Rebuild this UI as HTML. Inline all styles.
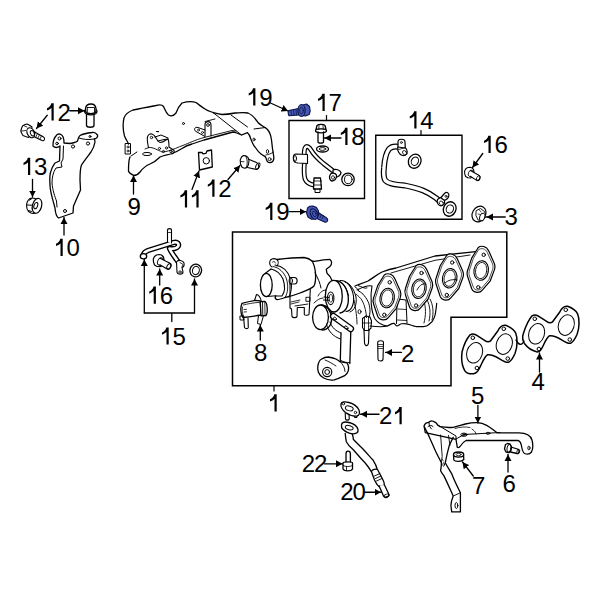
<!DOCTYPE html>
<html><head><meta charset="utf-8"><style>
html,body{margin:0;padding:0;background:#fff;width:600px;height:600px;overflow:hidden}
svg{position:absolute;left:0;top:0}
text{font-family:"Liberation Sans",sans-serif;font-size:24px;fill:#000}
</style></head><body>
<svg width="600" height="600" viewBox="0 0 600 600">
<defs><marker id="ah" markerWidth="8" markerHeight="8" refX="6.5" refY="4" orient="auto" markerUnits="userSpaceOnUse"><path d="M0,0.5 L6.5,4 L0,7.5 z" fill="#000" stroke="none"/></marker></defs>
<g fill="none" stroke="#000" stroke-width="1.3" stroke-linejoin="round" stroke-linecap="round">
<!-- ===== Part 10 bracket ===== -->
<path d="M53,146 C53,142 54,138 56,136 C57,134 59,133.5 61,134.5 C63,135.5 64,139 64,143 L70,143.5 C73,143 76,142.5 77.5,141 C78,139 78.5,136.5 80,135.5 C83,134 88,133 92,132.5 C94,132 96,133 97.5,135 C98,137 96.5,138.5 94.5,139 L95,142 C94.5,145 93,149 91,152 C88,156 84,161 81.5,165 C80,169 80,176 80,180 L80.5,190 L73.5,206 L73,213 L58.5,218 C56,216.5 55.5,214 55,208 C53,200 50,192 50,185 C49.5,178 50,173 51,171 C52,167 54,164.5 55,163 L59.5,161 L60,146 C58,147.5 55,148 53,146 Z"/>
<path d="M63.5,146 L63,159 L61,163 L62,167 L56,168 C53,172 52,178 52,183 C52.5,190 55,197 56.5,201 L57,207" stroke-width="1"/>
<path d="M79,138 C83,139.5 88,140 94.5,139" stroke-width="1"/>
<circle cx="59.5" cy="138.5" r="1.5" stroke-width="1"/>
<circle cx="57" cy="143.5" r="1.3" stroke-width="1"/>
<circle cx="73" cy="146.5" r="1.6" stroke-width="1"/>
<circle cx="88" cy="143.5" r="1.6" stroke-width="1"/>
<circle cx="90" cy="136.5" r="1" stroke-width="1"/>
<circle cx="65" cy="211" r="1.5" stroke-width="1"/>
<!-- bolt 12 vertical -->
<path d="M86.5,114 L86.5,125.5 C87,127.8 93.5,127.8 94,125.5 L94,114" fill="#fff"/>
<ellipse cx="90.8" cy="111.5" rx="6.2" ry="3.4" fill="#fff"/>
<path d="M85.5,108.5 C86,105 88.5,104 91,104 C93.5,104 95.5,105 96,108.5 L95.8,112 C94,114.3 87.5,114.3 85.8,112 Z" fill="#fff"/>
<path d="M87.3,107.5 L94.5,107.5 L94.5,111.8 M87.3,107.5 L87.3,111.8" stroke-width="0.9"/>
<!-- bolt 12 diagonal -->
<path d="M33,131 L43.5,137 C45.5,138.3 44.5,141.5 42,140.5 L31.5,135.5" fill="#fff" stroke-width="1.1"/>
<path d="M35.5,132.3 L34,135.5 M37.5,133.5 L36,136.7 M39.5,134.7 L38,137.8 M41.5,135.8 L40,139" stroke-width="0.8"/>
<path d="M21.5,128.5 L22.5,126 L25,124.5 L27,124 L29.5,125.2 L32,127 L31,134.5 L28.5,137.5 L25.5,136.5 L23,135.5 L21.5,133 L20.8,131 Z" fill="#fff" stroke-width="1.1"/>
<path d="M21.5,131 L26,130.5 M24.5,126 L27,127" stroke-width="0.8"/>
<ellipse cx="30.8" cy="132.8" rx="3.6" ry="5.2" transform="rotate(-25 30.8 132.8)" fill="#fff" stroke-width="1.1"/>
<ellipse cx="32.3" cy="133.3" rx="1.8" ry="2.8" transform="rotate(-25 32.3 133.3)" stroke-width="0.9"/>
<!-- nut 13 -->
<path d="M26.6,206 C26.5,203 27.5,200.5 29.5,198.8 C31,197.8 33,197.8 35,198.5 L37.5,199 L36,212.5 C34.5,213.5 32.5,213.5 31,213 L28.5,211.5 C27.2,210 26.6,208 26.6,206 Z" stroke-width="1.1"/>
<path d="M26.8,205 L31.5,205.2 M29.2,200.3 L32,198.5 M28.5,210.5 L31.5,211.5" stroke-width="1"/>
<ellipse cx="37" cy="205.8" rx="4.6" ry="7.6" transform="rotate(15 37 205.8)" fill="#fff" stroke-width="1.2"/>
<ellipse cx="35.8" cy="205.6" rx="1.8" ry="3.3" transform="rotate(20 35.8 205.6)" stroke-width="1"/>
<!-- arrows -->
<g stroke-width="1.3">
<path d="M32.5,179.5 V197" marker-end="url(#ah)"/>
<path d="M64,235 V217.5" marker-end="url(#ah)"/>
<path d="M69.75,110.75 H84.5" marker-end="url(#ah)"/>
<path d="M47.25,115.25 L36.5,128.5" marker-end="url(#ah)"/>
</g>
<!-- ===== Part 9 heat shield ===== -->
<path d="M130,157 C128.5,160 128.5,166 128.5,171 C129,173 131,174 134,175.5 C136,175.5 138,174.5 140,172 C143,168 146,165.5 150,164 C154,162.5 157,160 160,157 C163,155.5 167,155 172,153.5 C175,152.5 178,151 182,148.5 C185,146.5 188,145 192,144 L204,140 L233,132 C235,132 236.5,133 238,133.5 L241.5,135 L247.5,132.7 C249,134 250,136 250.5,138 C252,142 253,145 255,147 C257,150 259,152.5 261,154 C263.5,156 265.5,156 266,158 C266.5,161 268,162.7 270,162.7 C273,162.5 274,160 273.8,157 C272.5,150 272,145 271.5,140 C271,136 270,132 267,129 C264,126.5 260,125 258,122.5 C255.5,119 253,115 248,113 C243,112 238,113 235,113 C230,114 225,114.5 222,114.5 C218,114 215,113 213,112.5 C210,111.5 207,110.5 205,109 C202,107 199,105 196,102.5 C192,101 187,101.5 182,103 C179,106 177,110 176,113 C174,115.5 171,116.5 168.5,115 C166,113 165,110 163.5,106.5 C162,104.5 160,104.5 156,105.5 C148,107 140,108.5 133,110 C128,112 125,115 124,118 C123,122 123,130 124.5,136 C126,140 128,142 128.5,144"/>
<path d="M125.5,143.5 L130.5,143.5 L130.5,154 L125.5,154 Z" stroke-width="1"/>
<circle cx="128" cy="147" r="1" stroke-width="0.8"/><circle cx="128" cy="151" r="1" stroke-width="0.8"/>
<path d="M131,156 L137,152" stroke-width="1"/>
<path d="M145,149 C148,147.5 150,147 153,148 C157,149.5 160,151 162,152 C166,152 171,150 175.3,148.5 C178,147.5 181,146 184,145 C188,143.5 195,140 204,137.5 L232,130.5 L236,131" stroke-width="0.9"/>

<!-- fold lines -->
<path d="M213,112.5 L241.5,135" stroke-width="1"/>
<path d="M231,115 L247.5,127" stroke-width="1"/>
<path d="M254,129 L265.5,127.5" stroke-width="1"/>
<path d="M205,121.5 L215,119" stroke-width="0.9"/>
<!-- interior bracket left -->
<path d="M148.5,147.5 C147.5,143 147,139 147.5,137 C148,134.5 150,133.5 152,134 C154,134.5 155,136 156,138 C157,140 158.5,142 160,142.5 C162,142.5 164,141.5 166,140 L168,139 C169,141 169,144 169,147 C171,148.5 173,149.5 174,150.5 C174.5,152 174,153.5 172,154" stroke-width="1.1"/>
<path d="M155,137 L161,135 L168,138 M158,141 L164,139.5 L168,139" stroke-width="1"/>
<circle cx="151.5" cy="137.5" r="1.2" stroke-width="0.9"/>
<circle cx="159.5" cy="148.5" r="1.1" stroke-width="0.9"/>
<circle cx="166.5" cy="148" r="1.1" stroke-width="0.9"/>
<circle cx="163.5" cy="151.5" r="1.1" stroke-width="0.9"/>
<circle cx="171" cy="151.5" r="1.2" stroke-width="0.9"/>
<ellipse cx="147" cy="154" rx="4.5" ry="1.6" stroke-width="1"/>
<path d="M156.5,131.5 L158.5,131.7" stroke-width="1.2"/>
<circle cx="183.5" cy="123.5" r="1" stroke-width="1"/>
<!-- interior bracket right -->
<path d="M205,136 L205,125 C205,120.5 211,120.5 211,125 L211,136" stroke-width="1.1"/>
<circle cx="208" cy="125" r="1.4" stroke-width="0.9"/>
<path d="M205,136.5 L196,131.5 C193,129.5 195,126.5 198,127.5 L205,130" stroke-width="1"/>
<circle cx="198.5" cy="130" r="1" stroke-width="0.8"/><circle cx="202.5" cy="132.5" r="1" stroke-width="0.8"/>
<!-- holes on right flange -->
<ellipse cx="254" cy="139.5" rx="1" ry="1.5" stroke-width="0.9"/>
<ellipse cx="267.5" cy="151.5" rx="1.1" ry="2" stroke-width="0.9"/><path d="M265.8,155 C268,154.5 271,154 273.5,152" stroke-width="0.9"/>
<circle cx="269.6" cy="159.2" r="1.5" stroke-width="0.9"/>
<!-- ===== Part 11 clip ===== -->
<path d="M198.5,152.5 L202,152.5 L203,153.8 L206,153.3 L207,151 L211.5,150 L212.3,167 L199.5,170 Z"/>
<circle cx="206.3" cy="160.8" r="3.2" stroke-width="1"/>
<!-- ===== bolt 12 mid ===== -->
<path d="M247,158.5 L256.5,162.5 C259.5,163.8 259.5,169 256.5,169.5 L247.5,167.5" fill="#fff" stroke-width="1.1"/>
<ellipse cx="257.8" cy="166" rx="1.8" ry="3.3" transform="rotate(25 257.8 166)" stroke-width="0.9"/>
<path d="M241.5,157 L243.5,155.5 L246,155.8 L248,157.5 L249,160.5 L248.5,164.5 L247,167.5 L244.5,168.3 L242,167.3 L240.5,164 L240.2,160 Z" fill="#fff" stroke-width="1.1"/>
<path d="M245.5,156 C247.5,158 248,165 246,168" stroke-width="0.9"/>
<path d="M240.5,161.5 L244,161.8" stroke-width="0.8"/>
<!-- arrows -->
<g stroke-width="1.3">
<path d="M133.5,194 V175.5" marker-end="url(#ah)"/>
<path d="M192,189.5 L199,171" marker-end="url(#ah)"/>
<path d="M228,179.5 L240,165.5" marker-end="url(#ah)"/>
</g>
<!-- ===== Box 17 ===== -->
<path d="M289,120.5 H364.5 V198.5 H289 Z" stroke-width="1.4" stroke-linejoin="miter"/>
<path d="M326.5,115.5 V120.5" stroke-width="1.2"/>
<!-- bolt 18 -->
<path d="M317,125.5 C318,124 324,124 325,125.5 L326,129.5 L316,129.5 Z" fill="#fff"/>
<ellipse cx="321" cy="130.8" rx="5.5" ry="2" fill="#fff"/>
<path d="M319,125 L318.8,129.3 M323,125 L323.2,129.3" stroke-width="0.8"/>
<path d="M318,132 L318,142 C318,143.5 323.5,143.5 323.5,142 L323.5,132"/>
<ellipse cx="322.5" cy="149" rx="6" ry="3"/>
<ellipse cx="322.5" cy="149" rx="3.3" ry="1.4" stroke-width="0.9"/>
<!-- pipe 17 -->
<path d="M337,174 L323.5,163.5 C318,159 314,155 311,150 C309.5,147 306.5,145 305,148 C303.5,152 304.5,157 304.5,162 C304,168 303.5,174 305,179 C306.5,182.5 310,184.5 314,185" stroke-width="4.8"/>
<path d="M337,174 L323.5,163.5 C318,159 314,155 311,150 C309.5,147 306.5,145 305,148 C303.5,152 304.5,157 304.5,162 C304,168 303.5,174 305,179 C306.5,182.5 310,184.5 314,185" stroke="#fff" stroke-width="2.4"/>
<!-- clamp -->
<path d="M307.5,154.5 L296,154 C292.5,154 292.5,161 295.5,162.5 L298,163 L307.5,163.5 Z" fill="#fff" stroke-width="1.1"/>
<ellipse cx="295" cy="158.5" rx="1.5" ry="3" stroke-width="1"/>
<!-- lower fitting -->
<path d="M314,178 L320.5,178 L321.5,189 L313.5,189 Z" fill="#fff"/>
<path d="M313.5,181 L321.5,181 M313.5,185 L321.5,185" stroke-width="0.8"/>
<path d="M315,189 L315,192.5 L320,192.5 L320,189" stroke-width="1"/>
<!-- right fitting -->
<path d="M333,170 C336,168.5 340,170 341,172.5 C341,175 338,177 336,177 L333,176 Z" fill="#fff"/>
<path d="M330,175 C331,172.5 335,172.5 336.5,175 C337,178 335,181 332,181 C329.5,180.5 329,177 330,175 Z" fill="#fff"/>
<ellipse cx="333" cy="177.5" rx="1.5" ry="1.8" stroke-width="0.8"/>
<!-- ring washer -->
<ellipse cx="348" cy="179.4" rx="6.2" ry="6.3"/>
<ellipse cx="348.3" cy="179.4" rx="3.8" ry="4.3" stroke-width="1"/>
<!-- arrows -->
<g stroke-width="1.3">
<path d="M341,138 H324.5" marker-end="url(#ah)"/>
<path d="M270.5,103 L288,111" marker-end="url(#ah)"/>
</g>
<!-- blue bolt 19 top -->
<g fill="#4658b4" stroke="#0c1348" stroke-width="1.1">
<path d="M288.8,110.5 L298.5,108.5 L299,115 L289.5,115.8 C288,115.5 287.8,111.5 288.8,110.5 Z"/>
<path d="M303,105 L306.5,104 L309.5,106.5 L310.2,111 L309.2,114.5 L305.5,116 L302.5,115.5 Z"/>
<ellipse cx="301.5" cy="110.5" rx="3.6" ry="6"/>
<ellipse cx="301.5" cy="110.5" rx="1.8" ry="3.5" stroke-width="0.8"/>
</g>
<path d="M291,110.5 L291.5,115 M293.5,110 L294,114.8 M296,109.5 L296.5,114.8" stroke="#0c1348" stroke-width="0.7"/>
<!-- ===== Box 14 ===== -->
<path d="M375.75,135.25 H462 V219.3 H375.75 Z" stroke-width="1.4" stroke-linejoin="miter"/>
<path d="M421,130.5 V135.25" stroke-width="1.2"/>
<path d="M400.5,147.25 C396,146 392,146 389,149 C386,153 384.5,160 384,167.5 C383.5,172 383.5,177 385,180 C387,183 392,184.5 405,185.5 C412,187 418,188.5 423,190.5 C428,192.5 432,195 436,198 L439.5,201" stroke-width="5.8"/>
<path d="M400.5,147.25 C396,146 392,146 389,149 C386,153 384.5,160 384,167.5 C383.5,172 383.5,177 385,180 C387,183 392,184.5 405,185.5 C412,187 418,188.5 423,190.5 C428,192.5 432,195 436,198 L439.5,201" stroke="#fff" stroke-width="3.4"/>
<!-- top fitting -->
<path d="M398,147.5 L398,142 C398,138.3 405,138.3 405,142 L405.3,148" fill="#fff" stroke-width="1.2"/>
<circle cx="401.4" cy="142.5" r="1" stroke-width="0.8"/>
<path d="M397.8,147 C397,150.5 399.5,154.5 402,155.3 C404.8,156.2 407.5,154.5 407.2,151.5 C406.8,149.3 405.8,148.2 405.3,148 Z" fill="#fff" stroke-width="1.2"/>
<ellipse cx="404.6" cy="152.8" rx="1.8" ry="2.5" transform="rotate(-35 404.6 152.8)" stroke-width="0.8"/>
<path d="M398.5,149.5 L404.8,147.8" stroke-width="0.8"/>
<!-- bottom fitting -->
<path d="M440.5,198 L444.5,193.5 C446.5,191.5 449.5,192.5 448.8,196 C448.5,198 447,199.5 444.5,200.5 Z" fill="#fff" stroke-width="1.2"/>
<circle cx="446" cy="196.3" r="1" stroke-width="0.8"/>
<path d="M437.5,199.5 C436.5,203 438.5,205.8 441,205.8 C443.5,205.8 445.2,203.5 444.5,200.5 L440.5,197.5 Z" fill="#fff" stroke-width="1.2"/>
<ellipse cx="441.3" cy="203.2" rx="1.9" ry="2.3" transform="rotate(-30 441.3 203.2)" stroke-width="0.8"/>
<!-- washers -->
<ellipse cx="414.7" cy="161.2" rx="6.2" ry="7.2" transform="rotate(25 414.7 161.2)"/>
<ellipse cx="414.9" cy="161.2" rx="3.5" ry="4.3" transform="rotate(25 414.9 161.2)" stroke-width="1"/>
<ellipse cx="449.7" cy="209" rx="6.2" ry="7.4" transform="rotate(25 449.7 209)"/>
<ellipse cx="449.9" cy="209" rx="3.6" ry="4.2" transform="rotate(25 449.9 209)" stroke-width="1"/>
<!-- bolt 16 right -->
<g transform="translate(469.3,172.6) scale(0.88) translate(-158.7,-260.6)">
<path d="M154.5,256.5 L156.5,255 L159,254.5 L161.5,255 L163.5,257 L164,259.5 L163.5,263 L162.5,265.5 L160,266.7 L157,266.5 L154.5,265 L153.5,262 L153.3,259 Z" fill="#fff" stroke-width="1.2"/>
<ellipse cx="160.5" cy="261.5" rx="2.8" ry="3.9" transform="rotate(25 160.5 261.5)" stroke-width="0.9"/>
<path d="M160,258.3 L170,263.8 C172.3,265.3 170.5,270.5 167.5,269.7 L159.8,264.8" fill="#fff" stroke-width="1.2"/>
<ellipse cx="168.8" cy="266.8" rx="1.7" ry="2.8" transform="rotate(30 168.8 266.8)" stroke-width="0.9"/>
</g>
<!-- nut 3 -->
<ellipse cx="479" cy="214" rx="6.6" ry="8.2" transform="rotate(30 479 214)" stroke-width="1.2"/>
<path d="M476.5,210.5 L480.5,208.5 L484.5,211.5 L485.8,216.5 L482.5,221 L478,220 L476,215.5 Z" stroke-width="0.9"/>
<ellipse cx="482.3" cy="217" rx="2.6" ry="4" transform="rotate(20 482.3 217)" stroke-width="0.9" fill="#fff"/>
<path d="M479,209.5 L481,212 M478,214 L480.5,214.5" stroke-width="0.7"/>
<g stroke-width="1.3">
<path d="M482.75,153.5 L472.5,167.5" marker-end="url(#ah)"/>
<path d="M505.25,217 H486.5" marker-end="url(#ah)"/>
</g>
<!-- ===== Box 1 ===== -->
<path d="M232.5,232 H506.8 V317.3 H451 V385.8 H232.5 Z" stroke-width="1.5" stroke-linejoin="miter"/>
<path d="M274,385.8 V391" stroke-width="1.2"/>
<!-- actuator 8 -->
<path d="M242,303.3 C247,302 252,301 255.3,300.4 L260.3,300.8 L261,315 C255,316 248,317 242.8,317.5 C240.5,313 240.5,307 242,303.3 Z" fill="#fff"/>
<path d="M260.3,301.7 L265,301.5 C267.5,303 268,313 266,315.5 L261,315.8 Z" fill="#fff"/>
<path d="M262.5,302 L262.8,315" stroke-width="0.9"/>
<path d="M254.5,300.5 L256.5,294.5 C258,294 260.5,297.5 261.2,300.8" stroke-width="1.1"/>
<path d="M243.7,318.3 L244.5,327.5 C245.5,329 248,329 248.3,327.5 L248,318" stroke-width="1.1"/>
<path d="M258.5,315.5 L257.5,323.5 L261,324.5 L263.5,315.5" stroke-width="1"/><path d="M243.3,305 C248,303.8 253,302.8 259.5,302.3 M242.5,307 C242,310 242.2,313 243.3,316" stroke-width="0.8"/><path d="M264.8,302 L265,315" stroke-width="0.8"/>
<path d="M240.3,316 L243.7,315.8 L243.8,320 L240.5,320 Z" stroke-width="1"/>
<path d="M244,309.5 L246.5,309.3 M244,312 L246.5,311.8" stroke-width="0.8"/>
<path d="M260.3,340 V325" marker-end="url(#ah)" stroke-width="1.3"/>
<!-- compressor housing -->
<path d="M277,259.5 C285,258.5 295,257.5 304,257.5 C308,258 310.5,259.5 312,261 L314.3,261.3 C319,260.5 325,259.5 329.7,259.3 C332,261 332.5,264 329.7,266.7 C328,268 326.5,269 326.3,269.3 C326.5,271 327,273 327,273.3 C329,275 331,277.5 332,280.4"/>
<path d="M312,261 C314,264 315,268 315.5,273 C316,280 315.5,283 314,286 C311,289 305,291 300,293 C295,295 290,296.5 285,297.5 C281,299 278,300 276.5,299.5 C275,298.5 275,297 275.5,296"/>
<path d="M272,267 C269.5,266 269,262 270.5,260 C272,258.5 275,258.5 277,259.5 C278.5,261 278.5,264 277,266" stroke-width="1.1"/>
<path d="M272.5,262 C273.5,261 275,261.5 275.5,263" stroke-width="0.8"/>
<path d="M315,273 C318,278 320,283 321,288" stroke-width="1"/>
<!-- inlet -->
<path d="M275,265 C282,266 288,271 290.5,279 C292,285 291.5,292 289,297" stroke-width="1.1"/>
<path d="M273,266.5 C279,267.5 284,272 286.5,279 C288.5,286 288,293 285,297.5" stroke-width="0.9"/>
<path d="M271,269 C276,270 280,273 283,279 C285,285 285,292 282,296 L276,296" fill="#fff" stroke-width="1.1"/>
<path d="M265,273.5 L271,269 M267,296.5 L276,295.8" stroke-width="1.1"/>
<ellipse cx="266.3" cy="285" rx="5.9" ry="11.6" fill="#fff"/>
<!-- bolt boss -->
<path d="M290,277.5 L294.5,277.5 C298,277.5 298,284 294.5,284 L290,284 Z" fill="#fff" stroke-width="1.1"/>
<ellipse cx="290.8" cy="280.8" rx="1.7" ry="3" stroke-width="1"/>
<path d="M290,284 L290,297" stroke-width="1"/>
<!-- actuator bracket below housing -->
<path d="M290,297.5 L290,308 L291.5,309 L292,316.5 C292.5,318 296.5,318 297,316.5 L297.3,307.5 L304.3,307.5 L304.3,314.5 C304.5,315.5 308.5,315.5 309,314.5 L309.5,306 L310.3,289.3" stroke-width="1.1"/>
<path d="M306.3,297.3 H310 V301.3 H306.3 Z" stroke-width="0.9"/>
<path d="M291,302 L300,300 M291,304 L299,302" stroke-width="0.8"/>
<path d="M295,306 L308,304" stroke-width="0.9"/>
<!-- bearing housing rings -->
<path d="M340,280.5 C347,280 352,287 353.5,296 C354.5,305 351,311 346,311.5" fill="#fff" stroke-width="1.1"/>
<path d="M345,282 C350,283 354,289 356,297 C357,304 355,310 350,312" stroke-width="1"/>
<path d="M333,281 C340,279 346,285 348,295 C349.5,305 346,312 340,313" fill="#fff"/>
<path d="M336,280.6 C343,281 347,288 348.5,296" stroke-width="0.9"/>
<ellipse cx="333.8" cy="296.2" rx="8.5" ry="15.8" fill="#fff"/>
<ellipse cx="330.7" cy="298.3" rx="3.2" ry="6.3" stroke-width="1.1"/>
<ellipse cx="330.9" cy="298.3" rx="1.8" ry="4" stroke-width="0.8"/>
<path d="M324,297 L329,297.5 M323.5,300 L329,300.3" stroke-width="1"/>
<!-- center housing details -->
<path d="M318,296 C320,292 323,290 326,290" stroke-width="0.9"/>
<path d="M314,303 C317,300 320,298 323,298" stroke-width="0.9"/>
<!-- lower disc (turbine outlet) -->
<path d="M321,305 C327,305 331,311 331.5,318 C332,325 328,330 322,330" fill="#fff"/>
<ellipse cx="320.5" cy="317.3" rx="7.9" ry="12.3" fill="#fff"/>
<path d="M325,306 C330,307.5 333,313 333,320" stroke-width="0.9"/>
<!-- lever plate -->
<path d="M326.5,324 C328,331 333,336.5 340.5,339 M330,322 C332,328 336,331 341,333" stroke-width="1"/><path d="M334.6,313.8 L352.6,326.8 C355,328.5 352,333.5 349.4,331.2 L331.4,318.2 C329,316.5 332,312 334.6,313.8 Z" fill="#fff"/>
<ellipse cx="346.3" cy="327.6" rx="2" ry="1.3" transform="rotate(35 346.3 327.6)" stroke-width="0.9"/>
<ellipse cx="335" cy="318.5" rx="1.6" ry="1.1" transform="rotate(35 335 318.5)" stroke-width="0.9"/>

<!-- pipe down and elbow -->
<path d="M341,333 L340.3,360.5 M350.8,331.5 C350.5,342 350.2,352 349.8,363.5" /><path d="M340.3,360 C343,362 347,363 349.8,362.5" stroke-width="0.9"/>
<path d="M317.8,366.3 C318.5,362 320,360 321.3,359.3 C324,357.5 326,357 328.3,357 C332,357.5 335,358.5 336.5,359.3 C338,360.5 339,361 340,361.7 C343,362.5 345,362.8 347,362.8 C348.5,365 349,368 348.2,371 C347.5,373 346.5,374.5 344.7,375.7 C341,377.5 337.5,379 334.2,379.8 C330,380.5 326.5,379.5 323.7,378 C320.5,376 319,374 318.4,372.2 C317.8,370 317.5,368 317.8,366.3 Z" fill="#fff"/>
<path d="M340,361.5 C343,364.5 345,368 345,371.5" stroke-width="0.9"/>
<path d="M325,360 C329,361.5 333,364 336,366" stroke-width="0.9"/>
<circle cx="327.2" cy="372" r="4.6" stroke-width="1.1"/>
<circle cx="327.2" cy="372" r="2.4" stroke-width="1"/>
<!-- studs -->
<path d="M364,330 L364.5,343 C365,346.5 368,346.5 368.5,343 L369,330" fill="#fff" stroke-width="1.1"/>
<path d="M362.5,318.5 L366,316 L370,317 L371.5,321 L371,328 L368.5,330.5 L364.5,330.5 L362.5,327.5 Z" fill="#fff" stroke-width="1.1"/>
<path d="M364.5,317.5 L364.5,330 M368.5,317 L368.5,330.5 M362.8,323 L371.2,323" stroke-width="0.8"/>
<path d="M377.7,342.5 C377.7,340.2 383.5,340.2 383.5,342.5 L383,359.5 C382.5,361.5 378.3,361.5 378,359.5 Z" stroke-width="1.1"/>
<path d="M378,344.5 L382.7,344.5 M378,346.5 L382.7,346.5 M378,348.5 L382.7,348.5" stroke-width="0.7"/>
<path d="M401.5,352.4 H385.5" marker-end="url(#ah)" stroke-width="1.3"/>
<!-- ===== Manifold ===== -->

<!-- manifold body -->
<path d="M355,286 C360,284 364,283 368,281 C373,278 377,274.5 382,272 C388,269.5 392,268.5 396,268 L435,256 L478.3,251.3" fill="none"/>
<path d="M391,273 L435,260.3 L470,255" stroke-width="0.9"/>
<path d="M370,326 C378,327 384,327 387.3,326 C390,325 392,323 394,323.3 C395.5,324.5 396,326 397,326 C399,325.5 400.5,323.5 402,323.3 C405,323.5 408,324 410,324.7 C413,325.8 415,326.5 416.7,326.7 L423.3,326.7 C426,326.5 428,325.5 428.7,324.7 C430.5,323 432,322 432.7,320.7 C434,318.5 435,316 435.3,314 C436,310 436.5,306 436.7,303.3" stroke-width="1.2"/>
<path d="M357,290 C363,287 368,285 372,286 C370,296 371,312 375,319 C378,323 382,325.5 387.3,326" stroke-width="1.1"/>
<path d="M354,300 C356,310 357,318 357,324" stroke-width="0.9"/>
<path d="M396.5,323.5 L397,303 C397.5,300 399,299 402,299.5 L406,300 L407,323" fill="#fff" stroke-width="1"/>
<path d="M398,309 L406,309.5 M397.5,320 L406.5,320.5" stroke-width="0.8"/>
<path d="M430,299 C433,305 434,312 432,320 M427,299.5 C430,306 431,313 429,321 M424,301 C426,308 426,315 424,323" stroke-width="0.9"/>
<g transform="translate(387,297.3)">
<path d="M-2.7,-22.3 C0,-24.5 5.5,-24 8,-18.3 L13.3,-6.3 C14.2,-4 14.2,-2 13.3,0.3 L9.3,11 L1.3,20.3 C-1,23.5 -7.5,23.5 -9.3,19 L-13.3,7 C-14.2,4.5 -14.2,2.5 -13.3,0.3 L-9.3,-11.7 Z" fill="#fff" stroke-width="1.2"/>
<path d="M-2.2,-20.3 C0,-22 4.5,-21.5 6.3,-17.3 L11.5,-6 C12.2,-4 12.2,-2 11.5,0 L7.8,10 L0.5,18.5 C-1.5,21 -6,21 -7.5,17.8 L-11.5,6.5 C-12.2,4.5 -12.2,2.5 -11.5,0.3 L-7.8,-11 Z" stroke-width="0.7"/>
<ellipse cx="0.3" cy="0.7" rx="7.2" ry="9.8" transform="rotate(10)" stroke-width="1.1"/>
<ellipse cx="0.3" cy="0.7" rx="5.6" ry="8.2" transform="rotate(10)" stroke-width="0.8"/>
<circle cx="2.7" cy="-15" r="1.7" stroke-width="1"/>
<circle cx="-2.7" cy="17.5" r="1.7" stroke-width="1"/>
</g>
<g transform="translate(418.8,288)">
<path d="M-2.7,-22.3 C0,-24.5 5.5,-24 8,-18.3 L13.3,-6.3 C14.2,-4 14.2,-2 13.3,0.3 L9.3,11 L1.3,20.3 C-1,23.5 -7.5,23.5 -9.3,19 L-13.3,7 C-14.2,4.5 -14.2,2.5 -13.3,0.3 L-9.3,-11.7 Z" fill="#fff" stroke-width="1.2"/>
<path d="M-2.2,-20.3 C0,-22 4.5,-21.5 6.3,-17.3 L11.5,-6 C12.2,-4 12.2,-2 11.5,0 L7.8,10 L0.5,18.5 C-1.5,21 -6,21 -7.5,17.8 L-11.5,6.5 C-12.2,4.5 -12.2,2.5 -11.5,0.3 L-7.8,-11 Z" stroke-width="0.7"/>
<ellipse cx="0.3" cy="0.7" rx="7.2" ry="9.8" transform="rotate(10)" stroke-width="1.1"/>
<ellipse cx="0.3" cy="0.7" rx="5.6" ry="8.2" transform="rotate(10)" stroke-width="0.8"/>
<circle cx="2.7" cy="-15" r="1.7" stroke-width="1"/>
<circle cx="-2.7" cy="17.5" r="1.7" stroke-width="1"/>
</g>
<g transform="translate(449.5,277.5)">
<path d="M-2.7,-22.3 C0,-24.5 5.5,-24 8,-18.3 L13.3,-6.3 C14.2,-4 14.2,-2 13.3,0.3 L9.3,11 L1.3,20.3 C-1,23.5 -7.5,23.5 -9.3,19 L-13.3,7 C-14.2,4.5 -14.2,2.5 -13.3,0.3 L-9.3,-11.7 Z" fill="#fff" stroke-width="1.2"/>
<path d="M-2.2,-20.3 C0,-22 4.5,-21.5 6.3,-17.3 L11.5,-6 C12.2,-4 12.2,-2 11.5,0 L7.8,10 L0.5,18.5 C-1.5,21 -6,21 -7.5,17.8 L-11.5,6.5 C-12.2,4.5 -12.2,2.5 -11.5,0.3 L-7.8,-11 Z" stroke-width="0.7"/>
<ellipse cx="0.3" cy="0.7" rx="7.2" ry="9.8" transform="rotate(10)" stroke-width="1.1"/>
<ellipse cx="0.3" cy="0.7" rx="5.6" ry="8.2" transform="rotate(10)" stroke-width="0.8"/>
<circle cx="2.7" cy="-15" r="1.7" stroke-width="1"/>
<circle cx="-2.7" cy="17.5" r="1.7" stroke-width="1"/>
</g>
<g transform="translate(481,269.8)">
<path d="M-2.7,-22.3 C0,-24.5 5.5,-24 8,-18.3 L13.3,-6.3 C14.2,-4 14.2,-2 13.3,0.3 L9.3,11 L1.3,20.3 C-1,23.5 -7.5,23.5 -9.3,19 L-13.3,7 C-14.2,4.5 -14.2,2.5 -13.3,0.3 L-9.3,-11.7 Z" fill="#fff" stroke-width="1.2"/>
<path d="M-2.2,-20.3 C0,-22 4.5,-21.5 6.3,-17.3 L11.5,-6 C12.2,-4 12.2,-2 11.5,0 L7.8,10 L0.5,18.5 C-1.5,21 -6,21 -7.5,17.8 L-11.5,6.5 C-12.2,4.5 -12.2,2.5 -11.5,0.3 L-7.8,-11 Z" stroke-width="0.7"/>
<ellipse cx="0.3" cy="0.7" rx="7.2" ry="9.8" transform="rotate(10)" stroke-width="1.1"/>
<ellipse cx="0.3" cy="0.7" rx="5.6" ry="8.2" transform="rotate(10)" stroke-width="0.8"/>
<circle cx="2.7" cy="-15" r="1.7" stroke-width="1"/>
<circle cx="-2.7" cy="17.5" r="1.7" stroke-width="1"/>
</g>
<path d="M445,283 C448,280 453,279 457,280" stroke-width="0.9"/>
<path d="M417,290 C420,284 424,283 426,284" stroke-width="0.9"/>
<!-- left end of manifold near turbo -->
<path d="M358.3,290.7 C361.5,292.5 363,294 364,295.3 C366.5,298.5 368,301 368.8,303.5 C369.8,306.5 370,309 370,311.7 C370,314 369.5,316 368.8,317.5" stroke-width="1"/><path d="M356,294.2 C358.5,296 360.5,298 361.8,300 C363.5,303 364.5,306 365.3,309.3 C366,312 366.3,315 366.5,317.5" stroke-width="0.9"/><path d="M355,287 C358,289 359,290 358.3,290.7 M358,285.5 C362,287 365,289 367,288" stroke-width="1"/>
<ellipse cx="359.5" cy="311.7" rx="1.5" ry="2" stroke-width="0.9"/>
<!-- ===== Gasket 4 ===== -->

<g transform="translate(474.6,352.8)">
<path d="M-4.5,-18 C-2,-19.5 1,-18.5 3,-17 L10,-12.5 C12,-11 14,-10.5 16,-12 L23,-21.5 C25,-26 28,-28 31,-27.5 C35,-26 39,-24 41,-20 C43,-15 43,-6 40.5,0.5 C39,4 37,8 34,9.5 C31,10 28,8 25,6 C20,3 16,1.5 13,2 C10.5,3 8,9 6,13 C4.5,17 3,20.5 -1,21 C-5,21.3 -8.5,20 -10,17.5 C-12.5,13 -13.5,6 -12.5,-1 C-11,-7 -8,-14 -4.5,-18 Z" stroke-width="1.5" fill="#fff"/>
<ellipse cx="0" cy="0" rx="7.8" ry="10.5" transform="rotate(18)" stroke-width="1"/>
<ellipse cx="29.7" cy="-8.7" rx="7.8" ry="10.5" transform="rotate(18 29.7 -8.7)" stroke-width="1"/>
<circle cx="-1.8" cy="-15" r="1.8" stroke-width="1"/>
<circle cx="2.3" cy="15.2" r="1.8" stroke-width="1"/>
<circle cx="29.2" cy="-24" r="1.8" stroke-width="1"/>
<circle cx="33.2" cy="5.8" r="1.8" stroke-width="1"/>
</g>
<g transform="translate(536.6,333.8)">
<path d="M-4.5,-18 C-2,-19.5 1,-18.5 3,-17 L10,-12.5 C12,-11 14,-10.5 16,-12 L23,-21.5 C25,-26 28,-28 31,-27.5 C35,-26 39,-24 41,-20 C43,-15 43,-6 40.5,0.5 C39,4 37,8 34,9.5 C31,10 28,8 25,6 C20,3 16,1.5 13,2 C10.5,3 8,9 6,13 C4.5,16.5 2.5,18.5 0,18 C-4,17 -9,14 -12,10 C-14,7 -14.5,3 -13,-1 C-11,-7 -8,-14 -4.5,-18 Z" stroke-width="1.5" fill="#fff"/>
<ellipse cx="0" cy="0" rx="7.8" ry="10.5" transform="rotate(18)" stroke-width="1"/>
<ellipse cx="29.7" cy="-8.7" rx="7.8" ry="10.5" transform="rotate(18 29.7 -8.7)" stroke-width="1"/>
<circle cx="-1.8" cy="-15" r="1.8" stroke-width="1"/>
<circle cx="2.3" cy="15.2" r="1.8" stroke-width="1"/>
<circle cx="29.2" cy="-24" r="1.8" stroke-width="1"/>
<circle cx="33.2" cy="5.8" r="1.8" stroke-width="1"/>
</g>
<path d="M516,340 C518,345 522,346 524,341" stroke-width="1.3"/>
<path d="M539.5,372 V353" marker-end="url(#ah)" stroke-width="1.3"/>
<!-- ===== Bracket 5 ===== -->
<path d="M424,426 C425,423.5 426.5,422.5 428,422.7 C430,421 432,420.5 433.3,421.3 C435.5,422 437,423.5 437.3,424.7 L440,426.7 C445,427.5 449,427.8 453.3,427.3 C458,426.5 462,424.8 465.3,424 C470,423 474,422.6 477.3,422.7 C481,423 484,424 486.7,425.3 C490,427 492.5,429.5 497,432.8 L519,432.8 C526,432.8 530.5,435 532,440 C533,444 533,449 531.5,452 C530,454 527,454.5 524.5,453.5 C522.5,452 522,449 521.5,446 C521,443 520,441 518,440.5 L466,440.5 C463,442 461,445 460,446.5 C459,447.5 458,447.8 457.3,447.3 L456,439.3 L425.3,432.7 Z" fill="#fff"/>
<path d="M456,439 L464,434.5 L500,432.5" stroke-width="1"/>
<path d="M437.3,424.7 L456,436 L456,439" stroke-width="1"/>
<path d="M428,426.5 C429.5,425 431.5,425 433,426.5 M429,422.5 C429,425 430,428 431.5,429" stroke-width="1"/>
<ellipse cx="464" cy="434.7" rx="3.2" ry="1.6" stroke-width="1"/>
<ellipse cx="464" cy="434.7" rx="1.4" ry="0.7" stroke-width="0.8"/>
<ellipse cx="488" cy="433.3" rx="2" ry="1" stroke-width="0.9"/>
<path d="M455,428.5 C460,427 465,426.5 470,427.5 M472,429 C475,431 476,433 476,434" stroke-width="0.8"/>
<ellipse cx="528.9" cy="448" rx="1.1" ry="1.9" stroke-width="0.9"/>
<!-- arm -->
<path d="M424.5,427 L429.5,437.4 C432,443 434,448 435.8,451.7 L441.4,462.7 C441.5,466 440.8,469 440.6,470.7 C441.5,472.5 442.5,474 443.7,475.4 C447,482 450,489 453.2,496 C452,499 451,502 450.9,505.5 L451.7,511.8 L460.4,511.8 L460.4,492.8 C457,486 454,480 451.7,473.8 C449.5,470 447,466 445.3,462.7 C446.5,456 448,450 449.3,445.3 L453.2,437.4"/>
<path d="M440.6,435 L442.2,456.4 L441.4,462.7" stroke-width="0.9"/>
<path d="M448.5,435.5 L450,445.3" stroke-width="0.9"/>
<ellipse cx="443.7" cy="464.5" rx="0.9" ry="1.7" stroke-width="0.8"/>
<path d="M442,459 L443.5,461" stroke-width="0.7"/>
<ellipse cx="456.4" cy="505.5" rx="1.4" ry="3" stroke-width="1"/>
<path d="M453.2,496 L460.4,492.8" stroke-width="0.9"/>
<!-- bushing 7 -->
<path d="M453.5,454.5 L453.8,460 C455,462 462,462 463.8,459.5 L463.5,454.5" fill="#fff"/>
<ellipse cx="458.6" cy="454.6" rx="5.1" ry="2.6" fill="#fff"/>
<ellipse cx="458.6" cy="454.6" rx="2.5" ry="1.2" stroke-width="0.8"/>
<!-- bolt 6 -->
<path d="M509,446.5 L517.5,449 C520,450 519.5,454 517,453.5 L508.5,451.5" fill="#fff"/>
<ellipse cx="518.3" cy="451.3" rx="1.3" ry="2.2" transform="rotate(20 518.3 451.3)" stroke-width="0.8"/>
<path d="M505.5,444.5 L507.5,443.5 L510,444 L511.5,446.5 L511,450.5 L509,452.5 L506,452 L504.5,449 Z" fill="#fff"/>
<ellipse cx="509" cy="448.3" rx="2" ry="3.8" transform="rotate(10 509 448.3)" stroke-width="0.9"/>
<g stroke-width="1.3">
<path d="M477.9,405.5 V423" marker-end="url(#ah)"/>
<path d="M473.3,476 L462.5,462" marker-end="url(#ah)"/>
<path d="M508,472 V454.5" marker-end="url(#ah)"/>
</g>
<!-- ===== Gasket 21 ===== -->
<path d="M345.2,413 L345.5,419 C346,420.5 348.8,420.5 349.25,419 L349,413" stroke-width="1.1"/>
<path d="M354,413.5 L354.5,417.5 L357,417.5 L356.5,413.5" stroke-width="1"/>
<path d="M341,404 C341.5,401.5 345,401.5 349,402.5 C353,403.5 357,406 359,410 C360,413 359.5,415.5 357,416 C353,416.5 349,415 345.5,412.5 C342.5,410 340.5,406.5 341,404 Z" fill="#fff"/>
<ellipse cx="349.25" cy="408.4" rx="4" ry="2.3" transform="rotate(15 349.25 408.4)" stroke-width="1"/>
<circle cx="343.4" cy="403.75" r="1.2" stroke-width="0.9"/>
<circle cx="355.5" cy="412.5" r="1.2" stroke-width="0.9"/>
<path d="M379,414.25 H360.5" marker-end="url(#ah)" stroke-width="1.3"/>
<!-- ===== Pipe 20 ===== -->
<path d="M345.2,433.5 C345.5,437 346,440 346.3,441.7 C348,445 350,447 353.3,449.8 C358,455 362,460 365,462.7 C367,465 369.5,468.5 371.4,471.8" />
<path d="M352.2,434 C353,436 353.3,437.5 353.3,439.3 C356,442 358.5,445 361.5,447.5 C366,452 370,457 373.2,460.3 C375,463 376.5,466 377.25,469.5" />
<path d="M341.5,425 C341.5,422 345,421.5 349,422.5 C353,423.5 357,426 358,429.5 C358.5,432.5 356.5,434 353,433.8 C349,433.5 345,431.5 342.5,429 C341.5,428 341.3,426.5 341.5,425 Z" fill="#fff"/>
<ellipse cx="349.25" cy="427.7" rx="4" ry="2.1" transform="rotate(15 349.25 427.7)" stroke-width="1"/>
<path d="M371.4,471.5 C372,469.5 376,468.5 377.5,469.5 L383,480 C384.5,483 384.5,485 383.5,485.8 L379,486.5 C377.5,485.5 376,483 374.5,480 Z" fill="#fff"/>
<path d="M374.5,476 L380,473.5 M375.5,478.5 L381,476 M376.5,481 L382,478.5" stroke-width="0.9"/>
<path d="M379,485.8 L383.5,496 C384.5,498 388.5,497 389.2,495 L384.5,485" fill="#fff"/>
<ellipse cx="386.4" cy="495.8" rx="2.6" ry="1.6" transform="rotate(-25 386.4 495.8)" stroke-width="0.9"/>
<path d="M365,492.25 H381" marker-end="url(#ah)" stroke-width="1.3"/>
<!-- ===== Bolt 22 ===== -->
<path d="M346,462.5 L346,454 C346,452.5 347,451.2 348,451.2 C349.5,451.2 350.4,452.5 350.4,454 L350.4,462.5" />
<path d="M343,463 C343,461.5 352.5,461.5 352.5,463 L352.5,469 C351,471.5 344.5,471.5 343,469 Z" fill="#fff"/>
<path d="M343,465.5 C345.5,467 350,467 352.5,465.5 M346.5,466.5 L346.5,470.5" stroke-width="0.8"/>
<path d="M324.5,463.8 H342.5" marker-end="url(#ah)" stroke-width="1.3"/>
<!-- ===== Part 15 / 16 ===== -->
<path d="M143.5,254.5 C144,252.5 145.5,251.5 148,250.5 L173.5,242.5 C177.5,241.5 179.5,244 178,246.5 C176.5,248.5 172.5,249 169.5,248.5 C171,252 174,256 176.5,259.5 L180,264.5" stroke-width="5.4"/>
<path d="M143.5,254.5 C144,252.5 145.5,251.5 148,250.5 L173.5,242.5 C177.5,241.5 179.5,244 178,246.5 C176.5,248.5 172.5,249 169.5,248.5 C171,252 174,256 176.5,259.5 L180,264.5" stroke="#fff" stroke-width="2.6"/>
<path d="M167.5,242 L167.5,230.5 C167.5,228 171.5,228 171.5,230.5 L171.5,243" fill="#fff" stroke-width="1.1"/>
<path d="M168.5,232.5 L170.5,232.5" stroke-width="0.8"/>
<ellipse cx="143.5" cy="256.2" rx="3.2" ry="2.6" fill="#fff"/>
<path d="M176.5,262 C178,259.5 183,260 184,263 C184.5,265.5 183.5,267 182,267.5 L183,272 C183,275 177.5,275 177,272 Z" fill="#fff" stroke-width="1.1"/>
<circle cx="180" cy="272" r="1.2" stroke-width="0.8"/>
<path d="M180,262.5 L183,264.5 L182,267" stroke-width="0.8"/>
<!-- bolt 16 left -->
<path d="M154.5,256.5 L156.5,255 L159,254.5 L161.5,255 L163.5,257 L164,259.5 L163.5,263 L162.5,265.5 L160,266.7 L157,266.5 L154.5,265 L153.5,262 L153.3,259 Z" fill="#fff" stroke-width="1.2"/>
<ellipse cx="160.5" cy="261.5" rx="2.8" ry="3.9" transform="rotate(25 160.5 261.5)" stroke-width="0.9"/>
<path d="M160,258.3 L170,263.3 C172.3,264.8 170.5,270 167.5,269.2 L159.8,264.8" fill="#fff" stroke-width="1.2"/>
<ellipse cx="168.8" cy="266.4" rx="1.7" ry="2.8" transform="rotate(30 168.8 266.4)" stroke-width="0.9"/>
<!-- washer -->
<ellipse cx="195.7" cy="270.5" rx="5.8" ry="6.4" transform="rotate(15 195.7 270.5)"/>
<ellipse cx="195.9" cy="270.5" rx="3.4" ry="4.2" transform="rotate(15 195.9 270.5)" stroke-width="1"/>
<!-- bracket lines -->
<path d="M144.3,313 H194.5 M171.8,313 V321.5" stroke-width="1.3"/>
<g stroke-width="1.3">
<path d="M144.3,313 V259.5" marker-end="url(#ah)"/>
<path d="M194.5,313 V279" marker-end="url(#ah)"/>
<path d="M159.7,285 V269" marker-end="url(#ah)"/>
<path d="M289,211.7 H306" marker-end="url(#ah)"/>
</g>
<!-- blue bolt 19 lower -->
<g fill="#4658b4" stroke="#0c1348" stroke-width="1.1">
<path d="M315,210.5 L326,217.5 C329,219.5 327.5,223 324.5,222 L312.5,216.5 Z"/>
<path d="M307.5,208 L309.5,206.3 L313,206 L316.5,207.5 L318.5,211 L318,215.5 L315.5,219 L311.5,219.3 L308,217 L306.5,213 Z"/>
<ellipse cx="314" cy="214" rx="3.4" ry="5.4" transform="rotate(-25 314 214)"/>
<ellipse cx="314.3" cy="214" rx="1.6" ry="3" transform="rotate(-25 314.3 214)" stroke-width="0.8"/>
</g>
<path d="M319.5,213 L318,216.5 M321.5,214.3 L320,217.8 M323.5,215.5 L322,219" stroke="#0c1348" stroke-width="0.7"/>

</g>
<path d="M47.00,108.30 C49.20,107.30 50.80,105.70 51.30,103.30 L53.70,103.30 L53.70,120.50 L51.50,120.50 L51.50,107.90 C50.20,108.90 48.80,109.90 47.00,110.60 Z" fill="#000" stroke="none"/>
<text x="57.50" y="120.50">2</text>
<path d="M23.50,162.80 C25.70,161.80 27.30,160.20 27.80,157.80 L30.20,157.80 L30.20,175.00 L28.00,175.00 L28.00,162.40 C26.70,163.40 25.30,164.40 23.50,165.10 Z" fill="#000" stroke="none"/>
<text x="34.00" y="175.00">3</text>
<path d="M56.00,243.80 C58.20,242.80 59.80,241.20 60.30,238.80 L62.70,238.80 L62.70,256.00 L60.50,256.00 L60.50,243.40 C59.20,244.40 57.80,245.40 56.00,246.10 Z" fill="#000" stroke="none"/>
<text x="66.50" y="256.00">0</text>
<text x="127.40" y="214.60">9</text>
<path d="M180.40,195.30 C182.60,194.30 184.20,192.70 184.70,190.30 L187.10,190.30 L187.10,207.50 L184.90,207.50 L184.90,194.90 C183.60,195.90 182.20,196.90 180.40,197.60 Z" fill="#000" stroke="none"/>
<path d="M191.90,195.30 C194.10,194.30 195.70,192.70 196.20,190.30 L198.60,190.30 L198.60,207.50 L196.40,207.50 L196.40,194.90 C195.10,195.90 193.70,196.90 191.90,197.60 Z" fill="#000" stroke="none"/>
<path d="M207.80,184.50 C210.00,183.50 211.60,181.90 212.10,179.50 L214.50,179.50 L214.50,196.70 L212.30,196.70 L212.30,184.10 C211.00,185.10 209.60,186.10 207.80,186.80 Z" fill="#000" stroke="none"/>
<text x="218.30" y="196.70">2</text>
<path d="M248.70,93.30 C250.90,92.30 252.50,90.70 253.00,88.30 L255.40,88.30 L255.40,105.50 L253.20,105.50 L253.20,92.90 C251.90,93.90 250.50,94.90 248.70,95.60 Z" fill="#000" stroke="none"/>
<text x="259.20" y="105.50">9</text>
<path d="M318.00,98.80 C320.20,97.80 321.80,96.20 322.30,93.80 L324.70,93.80 L324.70,111.00 L322.50,111.00 L322.50,98.40 C321.20,99.40 319.80,100.40 318.00,101.10 Z" fill="#000" stroke="none"/>
<text x="328.50" y="111.00">7</text>
<path d="M340.80,132.80 C343.00,131.80 344.60,130.20 345.10,127.80 L347.50,127.80 L347.50,145.00 L345.30,145.00 L345.30,132.40 C344.00,133.40 342.60,134.40 340.80,135.10 Z" fill="#000" stroke="none"/>
<text x="351.30" y="145.00">8</text>
<path d="M409.80,116.30 C412.00,115.30 413.60,113.70 414.10,111.30 L416.50,111.30 L416.50,128.50 L414.30,128.50 L414.30,115.90 C413.00,116.90 411.60,117.90 409.80,118.60 Z" fill="#000" stroke="none"/>
<text x="420.30" y="128.50">4</text>
<path d="M484.00,140.80 C486.20,139.80 487.80,138.20 488.30,135.80 L490.70,135.80 L490.70,153.00 L488.50,153.00 L488.50,140.40 C487.20,141.40 485.80,142.40 484.00,143.10 Z" fill="#000" stroke="none"/>
<text x="494.50" y="153.00">6</text>
<text x="504.50" y="225.20">3</text>
<path d="M265.70,207.80 C267.90,206.80 269.50,205.20 270.00,202.80 L272.40,202.80 L272.40,220.00 L270.20,220.00 L270.20,207.40 C268.90,208.40 267.50,209.40 265.70,210.10 Z" fill="#000" stroke="none"/>
<text x="276.20" y="220.00">9</text>
<text x="254.00" y="361.00">8</text>
<text x="401.00" y="362.00">2</text>
<text x="531.50" y="389.50">4</text>
<path d="M270.00,399.30 C272.20,398.30 273.80,396.70 274.30,394.30 L276.70,394.30 L276.70,411.50 L274.50,411.50 L274.50,398.90 C273.20,399.90 271.80,400.90 270.00,401.60 Z" fill="#000" stroke="none"/>
<text x="379.00" y="424.30">2</text>
<path d="M395.00,412.10 C397.20,411.10 398.80,409.50 399.30,407.10 L401.70,407.10 L401.70,424.30 L399.50,424.30 L399.50,411.70 C398.20,412.70 396.80,413.70 395.00,414.40 Z" fill="#000" stroke="none"/>
<text x="471.00" y="403.50">5</text>
<text x="472.00" y="494.00">7</text>
<text x="502.50" y="491.50">6</text>
<text x="301.70" y="472.00">2</text>
<text x="314.00" y="472.00">2</text>
<text x="340.30" y="500.00">2</text>
<text x="352.60" y="500.00">0</text>
<path d="M149.20,291.50 C151.40,290.50 153.00,288.90 153.50,286.50 L155.90,286.50 L155.90,303.70 L153.70,303.70 L153.70,291.10 C152.40,292.10 151.00,293.10 149.20,293.80 Z" fill="#000" stroke="none"/>
<text x="159.70" y="303.70">6</text>
<path d="M162.00,332.40 C164.20,331.40 165.80,329.80 166.30,327.40 L168.70,327.40 L168.70,344.60 L166.50,344.60 L166.50,332.00 C165.20,333.00 163.80,334.00 162.00,334.70 Z" fill="#000" stroke="none"/>
<text x="172.50" y="344.60">5</text>
</svg></body></html>
